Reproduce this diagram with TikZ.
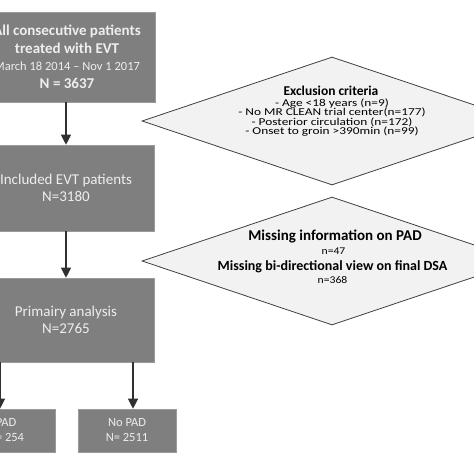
\documentclass[tikz,border=0pt]{standalone}
\usepackage{fontspec}
\setmainfont{Carlito}
\newfontfamily\widefont[FakeStretch=1.13]{Carlito}
\newfontfamily\widerfont[FakeStretch=1.27]{Carlito}
\usetikzlibrary{shapes.geometric,arrows.meta}
\definecolor{boxgray}{HTML}{7F7F7F}
\definecolor{boxline}{HTML}{9A9A9A}
\definecolor{boxtext}{HTML}{EEEEEE}
\definecolor{diafill}{HTML}{F2F2F2}
\definecolor{dialine}{HTML}{404040}
\definecolor{arrline}{HTML}{303030}
\newcommand{\fsG}{\fontsize{12.5}{16}\selectfont\mdseries}
\begin{document}
\begin{tikzpicture}[x=1pt,y=-1pt,
  graybox/.style={draw=boxline, line width=0.6pt, fill=boxgray, text=boxtext,
    align=center, inner sep=0pt},
  bigfont/.style={font=\fontsize{15}{17.5}\selectfont},
  smallbox/.style={font=\fontsize{12.5}{15}\selectfont},
  dia/.style={diamond, draw=dialine, line width=0.8pt, fill=diafill, inner sep=0pt},
  dtext/.style={anchor=base, inner sep=0pt, text=black},
  dhead/.style={dtext, font=\fontsize{13.5}{15}\selectfont\bfseries},
  dbody/.style={dtext, font=\widerfont\fontsize{10.5}{11}\selectfont},
  dbold/.style={dtext, font=\fontsize{15}{17}\selectfont\bfseries},
  dbold2/.style={dtext, font=\fontsize{14}{17}\selectfont\bfseries},
  dsmall/.style={dtext, font=\widefont\fontsize{10.3}{11}\selectfont},
  arr/.style={draw=arrline, line width=1.2pt, -{Triangle[width=10pt,length=10pt]}}
]
\useasboundingbox (0,0) rectangle (474,474);
\clip (0,0) rectangle (474,474);
\fill[white] (0,0) rectangle (474,474);

% diamonds
\node[dia, minimum width=380pt, minimum height=128pt] (d1) at (332,121) {};
\node[dhead] (d1a) at (331,95.3) {Exclusion criteria};
\node[dbody] (d1b) at (332,106) {- Age <18 years (n=9)};
\node[dbody] (d1c) at (332,115.5) {- No MR CLEAN trial center(n=177)};
\node[dbody] (d1d) at (332,125) {- Posterior circulation (n=172)};
\node[dbody] (d1e) at (332,134.5) {- Onset to groin >390min (n=99)};

\node[dia, minimum width=380pt, minimum height=128pt] (d2) at (332,261) {};
\node[dbold] (d2a) at (335,240.3) {Missing information on PAD};
\node[dsmall] (d2b) at (333.5,254.3) {n=47};
\node[dbold2] (d2c) at (332.5,270.3) {Missing bi-directional view on final DSA};
\node[dsmall] (d2d) at (332.5,283.7) {n=368};

% boxes
\node[graybox, bigfont, minimum width=176pt, minimum height=90pt] (b1) at (67,57)
  {\bfseries All consecutive patients\\
   \bfseries treated with EVT\\
   \fsG March 18 2014 – Nov 1 2017\\
   \fontsize{15}{17.5}\selectfont\bfseries N = 3637};
\node[graybox, bigfont, minimum width=176pt, minimum height=86pt] (b2) at (66,188)
  {Included EVT patients\\N=3180};
\node[graybox, bigfont, minimum width=176pt, minimum height=84pt] (b3) at (66,320)
  {Primairy analysis\\N=2765};
\node[graybox, smallbox, minimum width=98pt, minimum height=43pt] (b4) at (6,430.5)
  {PAD\\N= 254};
\node[graybox, smallbox, minimum width=98pt, minimum height=43pt] (b5) at (127,430.5)
  {No PAD\\N= 2511};

% arrows
\coordinate (c1) at (b2.north);
\draw[arr] (c1 |- b1.south) -- (c1);
\draw[arr] (b2.south) -- (b3.north);
\coordinate (c4) at ([xshift=-6pt]b4.north);
\coordinate (c5) at ([xshift=6pt]b5.north);
\draw[arr] (c4 |- b3.south) -- (c4);
\draw[arr] (c5 |- b3.south) -- (c5);
\end{tikzpicture}
\end{document}
